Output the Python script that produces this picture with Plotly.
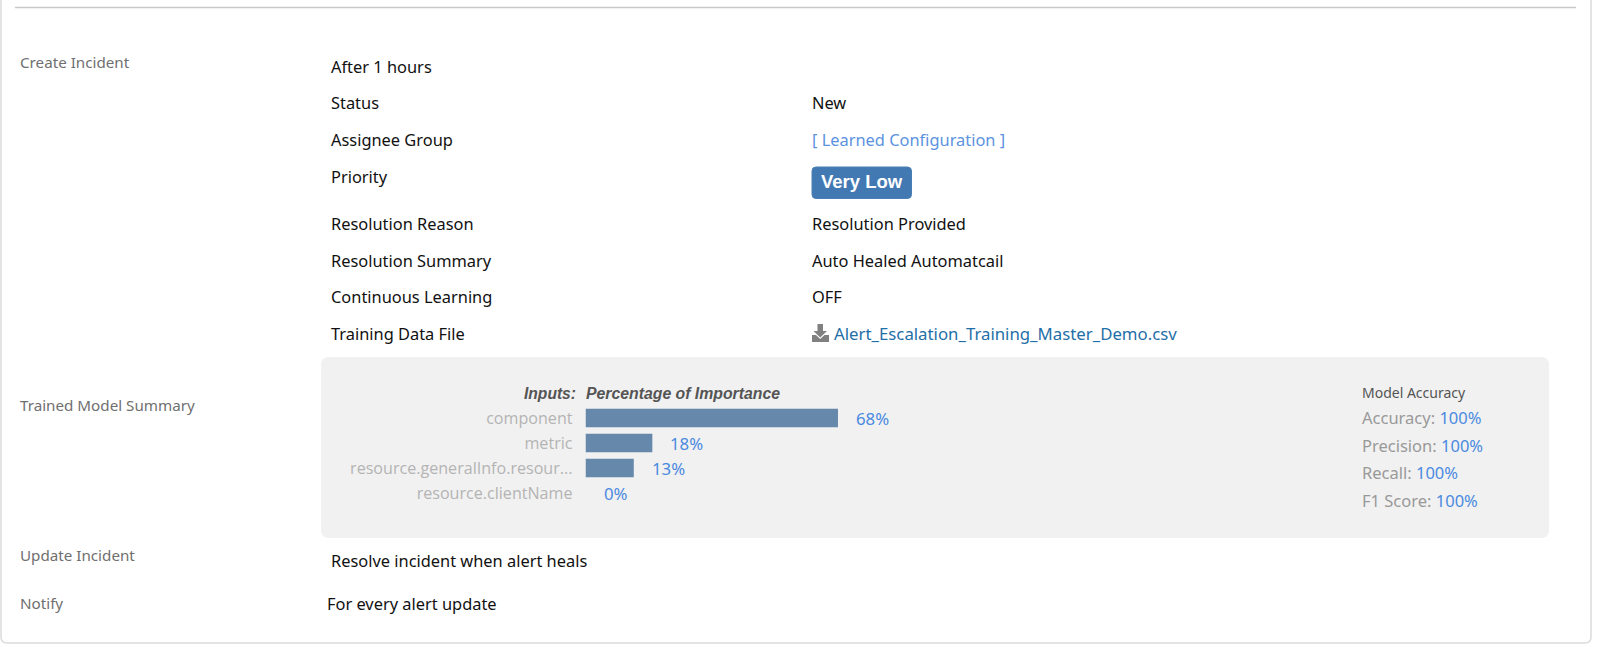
import plotly.graph_objects as go

W = 1600
H = 647

# chart values
inputs = ["component", "metric", "resource.generalInfo.resour...", "resource.clientName"]
importance = [68, 18, 13, 0]
accuracy_names = ["Accuracy:", "Precision:", "Recall:", "F1 Score:"]
accuracy_values = ["100%", "100%", "100%", "100%"]

# form text
section_labels = ["Create Incident", "Trained Model Summary", "Update Incident", "Notify"]
field_names = ["After 1 hours", "Status", "Assignee Group", "Priority", "Resolution Reason",
               "Resolution Summary", "Continuous Learning", "Training Data File",
               "Resolve incident when alert heals", "For every alert update"]
field_values = ["New", "[ Learned Configuration ]", "Very Low", "Resolution Provided",
                "Auto Healed Automatcail", "OFF", "Alert_Escalation_Training_Master_Demo.csv"]

TEXT_FONT = "Noto Sans"
BLUE = "#4a8ae0"


def px(x):
    return x / W


def py(y):
    return 1 - y / H


def label(x, y, text, color="#111111", size=16.4, family=TEXT_FONT, anchor="left"):
    fig.add_annotation(xref="paper", yref="paper", x=px(x), y=py(y), text=text, showarrow=False,
                       xanchor=anchor, yanchor="middle", borderpad=0, borderwidth=0,
                       font=dict(color=color, size=size, family=family))


def rounded(x0, y0, x1, y1, r):
    # rounded rectangle as a path in paper coords
    return (f"M {px(x0+r)} {py(y0)} L {px(x1-r)} {py(y0)} Q {px(x1)} {py(y0)} {px(x1)} {py(y0+r)} "
            f"L {px(x1)} {py(y1-r)} Q {px(x1)} {py(y1)} {px(x1-r)} {py(y1)} "
            f"L {px(x0+r)} {py(y1)} Q {px(x0)} {py(y1)} {px(x0)} {py(y1-r)} "
            f"L {px(x0)} {py(y0+r)} Q {px(x0)} {py(y0)} {px(x0+r)} {py(y0)} Z")


fig = go.Figure()
fig.add_trace(go.Bar(y=inputs, x=importance, orientation="h", marker=dict(color="#6688aa", line_width=0),
                     width=0.74, hoverinfo="skip"))

# axis scaled so that 100 units = 371 px
bar_left = 585.5
bar_right = bar_left + 371.3
fig.update_layout(
    width=W, height=H, margin=dict(l=0, r=0, t=0, b=0), showlegend=False,
    paper_bgcolor="white", plot_bgcolor="rgba(0,0,0,0)",
    xaxis=dict(domain=[px(bar_left), px(bar_right)], range=[0, 100], visible=False),
    yaxis=dict(domain=[py(506.5), py(404.5)], autorange="reversed", type="category",
               showgrid=False, zeroline=False, showline=False, ticks="", ticklabelstandoff=12,
               tickfont=dict(color="#b4b4b4", size=16.1, family="Open Sans")),
)

shapes = [
    # card outline
    dict(type="path", path=f"M {px(1)} {py(-10)} L {px(1)} {py(637)} Q {px(1)} {py(643)} {px(7)} {py(643)} "
                           f"L {px(1585)} {py(643)} Q {px(1591)} {py(643)} {px(1591)} {py(637)} L {px(1591)} {py(-10)}",
         line=dict(color="#dcdcdc", width=1.5)),
    # top rule
    dict(type="line", x0=px(15), x1=px(1576), y0=py(7.5), y1=py(7.5), line=dict(color="#c8c8c8", width=1.5)),
    # gray panel
    dict(type="path", path=rounded(321, 357, 1549, 538, 8), fillcolor="#f1f1f1", line_width=0, layer="below"),
    # priority badge
    dict(type="path", path=rounded(812, 167, 911.5, 198.5, 4), fillcolor="#4279b3", line=dict(color="#4a7fb5", width=1)),
    # download icon
    dict(type="path", path=f"M {px(817.5)} {py(324)} L {px(823)} {py(324)} L {px(823)} {py(331)} L {px(827)} {py(331)} "
                           f"L {px(820.2)} {py(337.5)} L {px(813.5)} {py(331)} L {px(817.5)} {py(331)} Z",
         fillcolor="#808080", line_width=0),
    dict(type="path", path=f"M {px(812)} {py(335)} L {px(816)} {py(335)} L {px(820.2)} {py(339)} L {px(824.5)} {py(335)} "
                           f"L {px(829)} {py(335)} L {px(829)} {py(342)} L {px(812)} {py(342)} Z",
         fillcolor="#808080", line_width=0),
]
for s in shapes:
    s.update(xref="paper", yref="paper")
fig.update_layout(shapes=shapes)

# left column
for text, y in zip(section_labels, [61.5, 405, 555, 603]):
    label(20, y, text, color="#6f6f6f", size=15.2)

# field names
name_y = [66.7, 102.6, 139.5, 176, 223.6, 260, 296.5, 333.4, 560, 603]
name_x = [330.5, 330.5, 330.5, 330.5, 330.5, 330.5, 330.5, 330.5, 330.5, 326.5]
for text, x, y in zip(field_names, name_x, name_y):
    label(x, y, text)

# field values
value_y = [102.6, 139.5, 181.5, 223.6, 260, 296.5, 333.4]
value_x = [812, 812, 821, 812, 812, 812, 834]
value_color = ["#111111", "#5b93e0", "white", "#111111", "#111111", "#111111", "#1f6fa8"]
for i, text in enumerate(field_values):
    if text == "Very Low":
        label(value_x[i], value_y[i], f"<b>{text}</b>", color="white", size=18.5, family="Liberation Sans")
    elif text.endswith(".csv"):
        label(value_x[i], value_y[i], text, color=value_color[i], size=16.8)
    else:
        label(value_x[i], value_y[i], text, color=value_color[i])

# chart header
label(576, 393, "<b><i>Inputs:</i></b>", color="#555555", size=15.6, family="Liberation Sans", anchor="right")
label(586, 393, "<b><i>Percentage of Importance</i></b>", color="#555555", size=15.8, family="Liberation Sans")

# value labels next to the bars
for name, v in zip(inputs, importance):
    fig.add_annotation(x=v, y=name, xref="x", yref="y", text=f"{v}%", showarrow=False, xanchor="left",
                       xshift=16, font=dict(color=BLUE, size=16.8, family=TEXT_FONT))

# model accuracy block
label(1362, 392, "Model Accuracy", color="#555555", size=14)
for name, value, y in zip(accuracy_names, accuracy_values, [417.5, 445.5, 472, 500]):
    label(1362, y, f'<span style="color:#999999">{name}</span> <span style="color:{BLUE}">{value}</span>', size=16.5)

fig.write_html("out.html", post_script="document.body.style.margin='0';", config=dict(displayModeBar=False))
